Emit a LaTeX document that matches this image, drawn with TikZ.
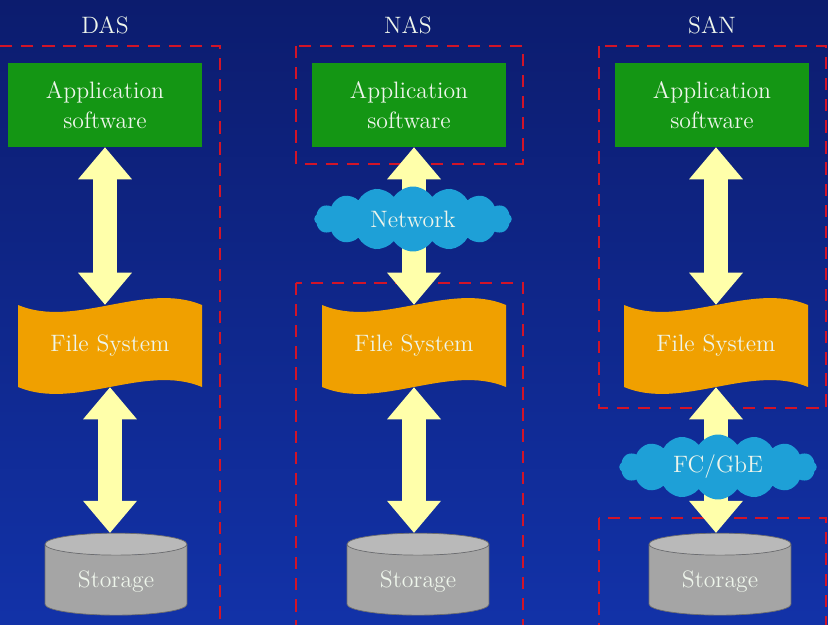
\documentclass[tikz,border=0pt]{standalone}
\usetikzlibrary{arrows.meta,shapes.geometric,shapes.symbols}

\definecolor{bgtop}{RGB}{12,28,110}
\definecolor{bgmid}{RGB}{16,46,160}
\definecolor{bgbot}{RGB}{18,50,168}
\definecolor{appgreen}{RGB}{20,150,20}
\definecolor{fsorange}{RGB}{240,160,0}
\definecolor{arrowyellow}{RGB}{255,255,170}
\definecolor{cloudblue}{RGB}{30,160,215}
\definecolor{dashred}{RGB}{210,20,40}
\definecolor{stgray}{RGB}{165,165,165}
\definecolor{sttop}{RGB}{185,185,185}
\definecolor{stedge}{RGB}{110,110,110}
\definecolor{textwhite}{RGB}{238,245,235}

% wavy band behind a file system node, centred at (#1,#2)
\newcommand{\fsband}[2]{%
  \begin{scope}[shift={(#1,#2)}]
    \fill[fsorange] (-92,-41) .. controls (-35,-17) and (35,-65) .. (92,-41)
      -- (92,41) .. controls (35,17) and (-35,65) .. (-92,41) -- cycle;
  \end{scope}}

\begin{document}
\begin{tikzpicture}[x=0.02cm,y=-0.02cm,
  every node/.style={font=\fontsize{13.5}{17}\selectfont,text=textwhite},
  appbox/.style={rectangle,fill=appgreen,minimum width=3.9cm,minimum height=1.68cm,align=center},
  fsnode/.style={rectangle,minimum width=3.7cm,minimum height=1.64cm},
  cloudnode/.style={cloud,cloud puffs=16,cloud puff arc=115,aspect=3.4,fill=cloudblue,
                    minimum width=3.95cm,minimum height=1.3cm,inner sep=0pt},
  storage/.style={cylinder,shape border rotate=90,aspect=0.25,draw=stedge,
                  cylinder uses custom fill,cylinder body fill=stgray,cylinder end fill=sttop,
                  minimum width=2.84cm,minimum height=1.64cm},
  dblarrow/.style={draw=arrowyellow,line width=0.48cm,
     {Triangle[width=1.08cm,length=0.64cm,line width=0pt]}-{Triangle[width=1.08cm,length=0.64cm,line width=0pt]}},
  regionbox/.style={draw=dashred,line width=1.6pt,dash pattern=on 7pt off 5pt}]

   \shade[top color=bgtop,middle color=bgmid,bottom color=bgbot] (0,0) rectangle (828,625);
   \useasboundingbox (0,0) rectangle (828,625);
   \clip (0,0) rectangle (828,625);

   % titles
   \node (das) at (105,25) {DAS};
   \node (nas) at (408,25) {NAS};
   \node (san) at (712,25) {SAN};

   % dashed regions
   \draw[regionbox] (-10,46) rectangle (220,660);
   \draw[regionbox] (296,46) rectangle (523,164);
   \draw[regionbox] (296,283) rectangle (523,660);
   \draw[regionbox] (599,46) rectangle (826,408);
   \draw[regionbox] (599,518) rectangle (826,660);

   % DAS
   \node[appbox] (app1) at (105,105) {Application\\software};
   \fsband{110}{346}
   \node[fsnode] (fs1) at (110,346) {File System};
   \node[storage] (st1) at (116,582) {Storage};
   \draw[dblarrow] (app1.south) -- (app1.south |- fs1.north);
   \draw[dblarrow] (fs1.south) -- (fs1.south |- st1.north);

   % NAS
   \node[appbox] (app2) at (409,105) {Application\\software};
   \fsband{414}{346}
   \node[fsnode] (fs2) at (414,346) {File System};
   \node[storage] (st2) at (418,582) {Storage};
   \draw[dblarrow] (fs2.north |- app2.south) -- (fs2.north);
   \draw[dblarrow] (fs2.south) -- (fs2.south |- st2.north);
   \node[cloudnode] (net2) at (413,219) {Network};

   % SAN
   \node[appbox] (app3) at (712,105) {Application\\software};
   \fsband{716}{346}
   \node[fsnode] (fs3) at (716,346) {File System};
   \node[storage] (st3) at (720,582) {Storage};
   \draw[dblarrow] (fs3.north |- app3.south) -- (fs3.north);
   \draw[dblarrow] (fs3.south) -- (fs3.south |- st3.north);
   \node[cloudnode] (fc3) at (718,467) {FC/GbE};
\end{tikzpicture}
\end{document}
